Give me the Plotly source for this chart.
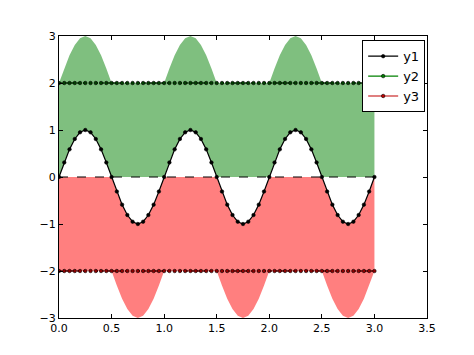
import plotly.graph_objects as go

# ---- data ----
x = [round(0.05 * i, 2) for i in range(61)]
period = [0.0, 0.309, 0.588, 0.809, 0.951, 1.0, 0.951, 0.809, 0.588, 0.309,
          0.0, -0.309, -0.588, -0.809, -0.951, -1.0, -0.951, -0.809, -0.588, -0.309]
y1 = period * 3 + [0.0]
y2 = [2.0] * 61
y3 = [-2.0] * 61
x_ticks = [0.0, 0.5, 1.0, 1.5, 2.0, 2.5, 3.0, 3.5]
y_ticks = [-3, -2, -1, 0, 1, 2, 3]

# ---- derived fill boundaries ----
pos = [max(v, 0.0) for v in y1]
neg = [min(v, 0.0) for v in y1]
g_top = [p + a for p, a in zip(pos, y2)]
r_bot = [n + b for n, b in zip(neg, y3)]

fig = go.Figure()
fig.add_trace(go.Scatter(x=x + x[::-1], y=g_top + pos[::-1], fill="toself",
                         fillcolor="rgba(0,128,0,0.5)", line=dict(width=0),
                         mode="lines", showlegend=False, hoverinfo="skip"))
fig.add_trace(go.Scatter(x=x + x[::-1], y=neg + r_bot[::-1], fill="toself",
                         fillcolor="rgba(255,0,0,0.5)", line=dict(width=0),
                         mode="lines", showlegend=False, hoverinfo="skip"))
fig.add_trace(go.Scatter(x=x, y=[0.0] * len(x), mode="lines",
                         line=dict(color="black", width=1, dash="dash"),
                         showlegend=False, hoverinfo="skip"))

marker_edge = dict(color="black", width=0.6)
fig.add_trace(go.Scatter(x=x, y=y1, name="y1", mode="lines+markers",
                         line=dict(color="black", width=1.2),
                         marker=dict(size=3.5, color="black", line=marker_edge),
                         showlegend=False))
fig.add_trace(go.Scatter(x=x, y=y2, name="y2", mode="lines+markers",
                         line=dict(color="#0a3a0a", width=1.5, dash="dot"),
                         marker=dict(size=3.5, color="#004000", line=marker_edge),
                         showlegend=False))
fig.add_trace(go.Scatter(x=x, y=y3, name="y3", mode="lines+markers",
                         line=dict(color="#600000", width=1.5, dash="dot"),
                         marker=dict(size=3.5, color="#900000", line=marker_edge),
                         showlegend=False))

# legend entries (solid lines, as in the reference legend)
for name, col in [("y1", "black"), ("y2", "green"), ("y3", "#c00000")]:
    fig.add_trace(go.Scatter(x=[None], y=[None], name=name, mode="lines+markers",
                             line=dict(color=col, width=1.2),
                             marker=dict(size=3.5, color=col, line=marker_edge)))

axis_common = dict(showline=True, linecolor="black", linewidth=1, mirror="ticks",
                   ticks="inside", ticklen=4, tickcolor="black", showgrid=False,
                   zeroline=False, tickfont=dict(family="DejaVu Sans", size=11, color="black"))
fig.update_xaxes(range=[0, 3.5], tickvals=x_ticks,
                 ticktext=[f"{v:.1f}" for v in x_ticks], **axis_common)
fig.update_yaxes(range=[-3, 3], tickvals=y_ticks,
                 ticktext=[str(v).replace("-", "\u2212") for v in y_ticks], **axis_common)

fig.update_layout(
    width=474, height=355,
    margin=dict(l=59, r=47, t=36, b=37),
    plot_bgcolor="white", paper_bgcolor="white",
    font=dict(family="DejaVu Sans", size=12, color="black"),
    legend=dict(x=0.995, y=0.985, xanchor="right", yanchor="top",
                bgcolor="white", bordercolor="black", borderwidth=1,
                font=dict(size=13), itemwidth=30, tracegroupgap=0),
)

fig.write_html("out.html")
